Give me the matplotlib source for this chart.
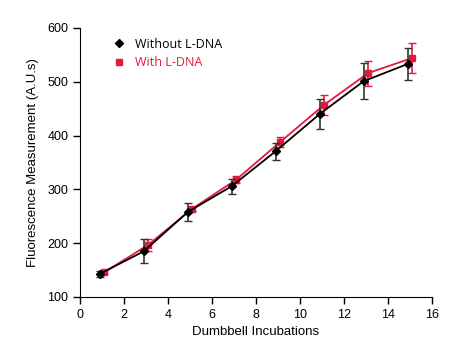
import matplotlib
matplotlib.use("Agg")
import matplotlib.pyplot as plt
from matplotlib.lines import Line2D

plt.rcParams['font.family'] = ['Liberation Sans', 'DejaVu Sans']

x_without = [0.9, 2.9, 4.9, 6.9, 8.9, 10.9, 12.9, 14.9]
y_without = [143, 185, 258, 306, 371, 440, 501, 533]
err_without = [5, 22, 16, 14, 16, 28, 34, 30]

x_with = [1.1, 3.1, 5.1, 7.1, 9.1, 11.1, 13.1, 15.1]
y_with = [146, 197, 264, 318, 388, 457, 516, 544]
err_with = [4, 11, 4, 6, 9, 19, 23, 28]

red = '#e8173c'

fig = plt.figure(figsize=(4.74, 3.49), dpi=100)
ax = fig.add_axes([0.169, 0.149, 0.742, 0.771])

ax.errorbar(x_without, y_without, yerr=err_without, color='black', ecolor='#333333',
            marker='D', markersize=4.5, lw=1.3, elinewidth=1.2, capsize=3, zorder=3)
ax.errorbar(x_with, y_with, yerr=err_with, color=red, ecolor=red,
            marker='s', markersize=4.5, lw=1.3, elinewidth=1.2, capsize=3, zorder=2)

ax.set_xlim(0, 16)
ax.set_ylim(100, 600)
ax.set_xticks(range(0, 17, 2))
ax.set_yticks(range(100, 601, 100))
ax.spines['top'].set_visible(False)
ax.spines['right'].set_visible(False)
ax.tick_params(direction='out', length=5, width=1, labelsize=9)
ax.set_xlabel('Dumbbell Incubations', fontsize=9.5, labelpad=4)
ax.set_ylabel('Fluorescence Measurement (A.U.s)', fontsize=9.5, labelpad=6)

handles = [Line2D([], [], color='black', marker='D', markersize=4.5, ls='none'),
           Line2D([], [], color=red, marker='s', markersize=5, ls='none')]
leg = ax.legend(handles, ['Without L-DNA', 'With L-DNA'], loc='upper left',
                bbox_to_anchor=(0.06, 1.005), frameon=False, handlelength=1,
                handletextpad=0.8, labelspacing=0.45,
                prop={'family': 'Open Sans', 'size': 9, 'weight': 'medium'})
leg.get_texts()[1].set_color(red)

fig.savefig('out.png', dpi=100)
